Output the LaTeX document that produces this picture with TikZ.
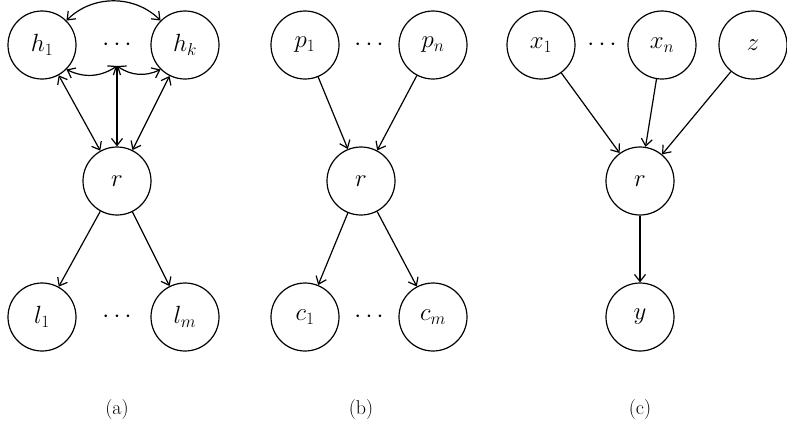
\documentclass[tikz,border=0pt]{standalone}
\usetikzlibrary{arrows.meta}
\begin{document}
\begin{tikzpicture}[x=1pt,y=-1pt,
 v/.style={circle,draw,line width=1.2pt,minimum size=68pt,inner sep=0pt,font=\fontsize{26}{30}\selectfont},
 t/.style={font=\fontsize{26}{30}\selectfont},
 a/.style={line width=1.2pt,-{Straight Barb[length=7pt,width=11pt]}},
 b/.style={line width=1.2pt,{Straight Barb[length=7pt,width=11pt]}-{Straight Barb[length=7pt,width=11pt]}},
 lbl/.style={font=\fontsize{20}{24}\selectfont}]
\useasboundingbox (0,0) rectangle (787,432);
% (a)
\node[v] (h1) at (42,45) {$h_1$};
\node[v] (hk) at (185,45) {$h_k$};
\node[t] (hd) at (117,45) {$\cdots$};
\node[v] (ra) at (117,181) {$r$};
\node[v] (l1) at (42,317) {$l_1$};
\node[v] (lm) at (185,317) {$l_m$};
\node[t] at (117,317) {$\cdots$};
\coordinate (hs) at (117,66);
\draw[b] (h1) -- (ra);
\draw[b] (hk) -- (ra);
\draw[a] (hs) -- (ra);
\draw[b] (h1.south east) to[bend right=30] (hs);
\draw[b] (hk.south west) to[bend left=30] (hs);
\draw[b] (h1.north east) to[bend left=45] (hk.north west);
\draw[a] (ra) -- (l1);
\draw[a] (ra) -- (lm);
\node[lbl] at (117,410) {(a)};
% (b)
\node[v] (p1) at (305,45) {$p_1$};
\node[v] (pn) at (433,45) {$p_n$};
\node[t] at (369,45) {$\cdots$};
\node[v] (rb) at (361,181) {$r$};
\node[v] (c1) at (305,317) {$c_1$};
\node[v] (cm) at (433,317) {$c_m$};
\node[t] at (369,317) {$\cdots$};
\draw[a] (p1) -- (rb);
\draw[a] (pn) -- (rb);
\draw[a] (rb) -- (c1);
\draw[a] (rb) -- (cm);
\node[lbl] at (361,410) {(b)};
% (c)
\node[v] (x1) at (541,45) {$x_1$};
\node[v] (xn) at (662,45) {$x_n$};
\node[v] (z) at (753,45) {$z$};
\node[t] at (602,45) {$\cdots$};
\node[v] (rc) at (640,181) {$r$};
\node[v] (y) at (640,317) {$y$};
\draw[a] (x1) -- (rc);
\draw[a] (xn) -- (rc);
\draw[a] (z) -- (rc);
\draw[a] (rc) -- (y);
\node[lbl] at (640,410) {(c)};
\end{tikzpicture}
\end{document}
